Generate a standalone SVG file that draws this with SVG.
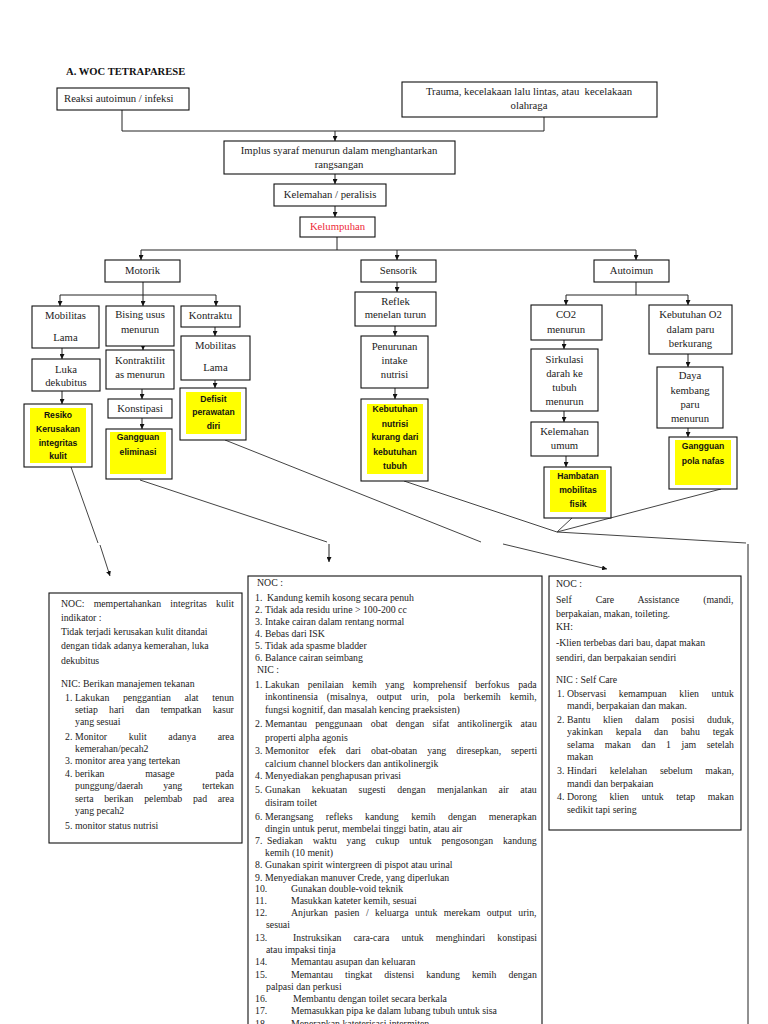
<svg xmlns="http://www.w3.org/2000/svg" width="768" height="1024" viewBox="0 0 768 1024">
<style>
.bx{fill:#fff;stroke:#111;stroke-width:1.1}
.yl{fill:#ffff00;stroke:none}
.t{font-family:"Liberation Serif","Times New Roman",serif;font-size:10.7px;fill:#222;text-anchor:middle}
.tl{font-family:"Liberation Serif","Times New Roman",serif;font-size:10.7px;fill:#222}
.red{fill:#ee2a3a}
.y{font-family:"Liberation Sans",Arial,sans-serif;font-size:8.6px;font-weight:bold;fill:#111;text-anchor:middle}
.b{font-family:"Liberation Serif","Times New Roman",serif;font-size:9.8px;fill:#222}
.ttl{font-family:"Liberation Serif","Times New Roman",serif;font-size:10.6px;font-weight:bold;fill:#111}
.c{fill:none;stroke:#222;stroke-width:1}
.d{fill:none;stroke:#444;stroke-width:1}
</style>
<defs>
<marker id="ah" viewBox="0 0 6 6" refX="6" refY="3" markerWidth="5" markerHeight="5" markerUnits="userSpaceOnUse" orient="auto"><path d="M0,0 L6,3 L0,6 z" fill="#111"/></marker>
</defs>
<rect width="768" height="1024" fill="#fff"/>
<text class="ttl" x="66" y="75">A. WOC TETRAPARESE</text>

<g id="connectors">
<path class="c" d="M122,110 V131 H544 V117"/>
<path class="c" d="M335,131 V141" marker-end="url(#ah)"/>
<path class="c" d="M335,174 V184" marker-end="url(#ah)"/>
<path class="c" d="M335,206 V217" marker-end="url(#ah)"/>
<path class="c" d="M337,237 V250 M141,250 H636"/>
<path class="c" d="M141,250 V260" marker-end="url(#ah)"/>
<path class="c" d="M397,250 V260" marker-end="url(#ah)"/>
<path class="c" d="M636,250 V260" marker-end="url(#ah)"/>
<path class="c" d="M143,282 V295 M60,295 H216"/>
<path class="c" d="M60,295 V306" marker-end="url(#ah)"/>
<path class="c" d="M143,295 V306" marker-end="url(#ah)"/>
<path class="c" d="M216,295 V306" marker-end="url(#ah)"/>
<path class="c" d="M62,348 V359" marker-end="url(#ah)"/>
<path class="c" d="M62,391 V404" marker-end="url(#ah)"/>
<path class="c" d="M143,344 V350" marker-end="url(#ah)"/>
<path class="c" d="M142,389 V399" marker-end="url(#ah)"/>
<path class="c" d="M142,418 V429" marker-end="url(#ah)"/>
<path class="c" d="M215,327 V336" marker-end="url(#ah)"/>
<path class="c" d="M215,380 V388" marker-end="url(#ah)"/>
<path class="c" d="M397,282 V292" marker-end="url(#ah)"/>
<path class="c" d="M395,326 V336" marker-end="url(#ah)"/>
<path class="c" d="M395,388 V399" marker-end="url(#ah)"/>
<path class="c" d="M636,282 V295 M566,295 H688"/>
<path class="c" d="M566,295 V305" marker-end="url(#ah)"/>
<path class="c" d="M688,295 V305" marker-end="url(#ah)"/>
<path class="c" d="M564,340 V349" marker-end="url(#ah)"/>
<path class="c" d="M564,411 V422" marker-end="url(#ah)"/>
<path class="c" d="M566,456 V467" marker-end="url(#ah)"/>
<path class="c" d="M688,354 V367" marker-end="url(#ah)"/>
<path class="c" d="M688,428 V437" marker-end="url(#ah)"/>
<path class="d" d="M71,467 L98,543"/>
<path class="d" d="M100,545 L110,576" marker-end="url(#ah)"/>
<path class="d" d="M140,480 L327,542"/>
<path class="c" d="M329,544 V562" marker-end="url(#ah)"/>
<path class="d" d="M225,440 L481,542"/>
<path class="d" d="M503,544 L607,569" marker-end="url(#ah)"/>
<path class="d" d="M404,481 L557,532 M572,518 L557,532 M721,489 L557,532 L746,543"/>
<path class="c" d="M748,544 V1024"/>
</g>

<g id="n-reaksi"><rect class="bx" x="57" y="88" width="132" height="22"/><text class="tl" x="64" y="102">Reaksi autoimun / infeksi</text></g>
<g id="n-trauma"><rect class="bx" x="402" y="82" width="255" height="35"/><text class="t" x="529" y="95">Trauma, kecelakaan lalu lintas, atau&#160; kecelakaan</text><text class="t" x="529" y="109">olahraga</text></g>
<g id="n-implus"><rect class="bx" x="224" y="141" width="231" height="33"/><text class="t" x="339" y="154">Implus syaraf menurun dalam menghantarkan</text><text class="t" x="339" y="168">rangsangan</text></g>
<g id="n-kelemahan"><rect class="bx" x="274" y="184" width="112" height="22"/><text class="t" x="330" y="198">Kelemahan / peralisis</text></g>
<g id="n-kelumpuhan"><rect class="bx" x="300" y="217" width="75" height="20"/><text class="t red" x="337.5" y="230">Kelumpuhan</text></g>
<g id="n-motorik"><rect class="bx" x="105" y="260" width="75" height="22"/><text class="t" x="142.5" y="274">Motorik</text></g>
<g id="n-sensorik"><rect class="bx" x="361" y="260" width="75" height="22"/><text class="t" x="398.5" y="274">Sensorik</text></g>
<g id="n-autoimun"><rect class="bx" x="594" y="260" width="75" height="22"/><text class="t" x="631.5" y="274">Autoimun</text></g>

<g id="n-mobilitas1"><rect class="bx" x="32" y="306" width="67" height="42"/><text class="t" x="65.5" y="319">Mobilitas</text><text class="t" x="65.5" y="341">Lama</text></g>
<g id="n-luka"><rect class="bx" x="32" y="359" width="68" height="32"/><text class="t" x="66" y="373">Luka</text><text class="t" x="66" y="386">dekubitus</text></g>
<g id="n-resiko"><rect class="bx" x="24" y="404" width="68" height="63"/><rect class="yl" x="30" y="408" width="56" height="55"/><text class="y" x="58" y="418">Resiko</text><text class="y" x="58" y="432">Kerusakan</text><text class="y" x="58" y="446">integritas</text><text class="y" x="58" y="459">kulit</text></g>
<g id="n-bising"><rect class="bx" x="106" y="306" width="68" height="40"/><text class="t" x="140" y="318">Bising usus</text><text class="t" x="140" y="333">menurun</text></g>
<g id="n-kontraktilitas"><rect class="bx" x="106" y="350" width="68" height="39"/><text class="t" x="140" y="364">Kontraktilit</text><text class="t" x="140" y="378">as menurun</text></g>
<g id="n-konstipasi"><rect class="bx" x="108" y="399" width="64" height="19"/><text class="t" x="140" y="412">Konstipasi</text></g>
<g id="n-eliminasi"><rect class="bx" x="106" y="429" width="66" height="50"/><rect class="yl" x="110" y="432" width="56" height="42"/><text class="y" x="138" y="440">Gangguan</text><text class="y" x="138" y="455">eliminasi</text></g>
<g id="n-kontraktu"><rect class="bx" x="181" y="306" width="59" height="21"/><text class="t" x="210.5" y="319">Kontraktu</text></g>
<g id="n-mobilitas2"><rect class="bx" x="181" y="336" width="69" height="44"/><text class="t" x="215.5" y="349">Mobilitas</text><text class="t" x="215.5" y="371">Lama</text></g>
<g id="n-defisit"><rect class="bx" x="180" y="388" width="66" height="52"/><rect class="yl" x="186" y="392" width="55" height="42"/><text class="y" x="213.5" y="402">Defisit</text><text class="y" x="213.5" y="415">perawatan</text><text class="y" x="213.5" y="429">diri</text></g>

<g id="n-reflek"><rect class="bx" x="355" y="292" width="81" height="34"/><text class="t" x="395.5" y="305">Reflek</text><text class="t" x="395.5" y="318">menelan turun</text></g>
<g id="n-penurunan"><rect class="bx" x="361" y="336" width="67" height="52"/><text class="t" x="394.5" y="350">Penurunan</text><text class="t" x="394.5" y="364">intake</text><text class="t" x="394.5" y="378">nutrisi</text></g>
<g id="n-nutrisi"><rect class="bx" x="361" y="399" width="67" height="82"/><rect class="yl" x="367" y="404" width="56" height="70"/><text class="y" x="395" y="412">Kebutuhan</text><text class="y" x="395" y="427">nutrisi</text><text class="y" x="395" y="440">kurang dari</text><text class="y" x="395" y="455">kebutuhan</text><text class="y" x="395" y="469">tubuh</text></g>

<g id="n-co2"><rect class="bx" x="531" y="305" width="71" height="35"/><text class="t" x="566" y="318">CO2</text><text class="t" x="566" y="333">menurun</text></g>
<g id="n-sirkulasi"><rect class="bx" x="531" y="349" width="67" height="62"/><text class="t" x="564.5" y="363">Sirkulasi</text><text class="t" x="564.5" y="377">darah ke</text><text class="t" x="564.5" y="391">tubuh</text><text class="t" x="564.5" y="405">menurun</text></g>
<g id="n-kelemahan-umum"><rect class="bx" x="531" y="422" width="67" height="34"/><text class="t" x="564.5" y="435">Kelemahan</text><text class="t" x="564.5" y="449">umum</text></g>
<g id="n-hambatan"><rect class="bx" x="544" y="467" width="67" height="51"/><rect class="yl" x="550" y="470" width="56" height="42"/><text class="y" x="578" y="479">Hambatan</text><text class="y" x="578" y="493">mobilitas</text><text class="y" x="578" y="507">fisik</text></g>
<g id="n-o2"><rect class="bx" x="649" y="305" width="83" height="49"/><text class="t" x="690.5" y="318">Kebutuhan O2</text><text class="t" x="690.5" y="333">dalam paru</text><text class="t" x="690.5" y="347">berkurang</text></g>
<g id="n-daya"><rect class="bx" x="657" y="367" width="66" height="61"/><text class="t" x="690" y="379">Daya</text><text class="t" x="690" y="394">kembang</text><text class="t" x="690" y="408">paru</text><text class="t" x="690" y="422">menurun</text></g>
<g id="n-nafas"><rect class="bx" x="669" y="437" width="68" height="52"/><rect class="yl" x="675" y="440" width="56" height="45"/><text class="y" x="703" y="449">Gangguan</text><text class="y" x="703" y="464">pola nafas</text></g>

<g id="n-plan-kulit">
<rect class="bx" x="49" y="593" width="193" height="250"/>
<text class="b" x="61" y="607" word-spacing="6.8">NOC: mempertahankan integritas kulit</text>
<text class="b" x="61" y="621">indikator :</text>
<text class="b" x="61" y="635">Tidak terjadi kerusakan kulit ditandai</text>
<text class="b" x="61" y="649">dengan tidak adanya kemerahan, luka</text>
<text class="b" x="61" y="664">dekubitus</text>
<text class="b" x="61" y="687">NIC: Berikan manajemen tekanan</text>
<text class="b" x="65" y="701">1.</text><text class="b" x="75" y="701" word-spacing="11.2">Lakukan penggantian alat tenun</text>
<text class="b" x="75" y="713" word-spacing="8.7">setiap hari dan tempatkan kasur</text>
<text class="b" x="75" y="725">yang sesuai</text>
<text class="b" x="65" y="740">2.</text><text class="b" x="75" y="740" word-spacing="19.2">Monitor kulit adanya area</text>
<text class="b" x="75" y="752">kemerahan/pecah2</text>
<text class="b" x="65" y="764">3.</text><text class="b" x="75" y="764">monitor area yang tertekan</text>
<text class="b" x="65" y="777">4.</text><text class="b" x="75" y="777" word-spacing="38.4">berikan masage pada</text>
<text class="b" x="75" y="789" word-spacing="17.7">punggung/daerah yang tertekan</text>
<text class="b" x="75" y="802" word-spacing="8.2">serta berikan pelembab pad area</text>
<text class="b" x="75" y="814">yang pecah2</text>
<text class="b" x="65" y="829">5.</text><text class="b" x="75" y="829">monitor status nutrisi</text>
</g>

<g id="n-plan-eliminasi">
<rect class="bx" x="248" y="576" width="294" height="460"/>
<text class="b" x="257" y="586">NOC :</text>
<text class="b" x="255" y="601">1.</text><text class="b" x="267" y="601">Kandung kemih kosong secara penuh</text>
<text class="b" x="255" y="613">2.</text><text class="b" x="265" y="613">Tidak ada residu urine &gt; 100-200 cc</text>
<text class="b" x="255" y="625">3.</text><text class="b" x="265" y="625">Intake cairan dalam rentang normal</text>
<text class="b" x="255" y="637">4.</text><text class="b" x="265" y="637">Bebas dari ISK</text>
<text class="b" x="255" y="649">5.</text><text class="b" x="265" y="649">Tidak ada spasme bladder</text>
<text class="b" x="255" y="661">6.</text><text class="b" x="265" y="661">Balance cairan seimbang</text>
<text class="b" x="257" y="673">NIC :</text>
<text class="b" x="255" y="688">1.</text><text class="b" x="265" y="688" word-spacing="6.1">Lakukan penilaian kemih yang komprehensif berfokus pada</text>
<text class="b" x="265" y="700" word-spacing="6.5">inkontinensia (misalnya, output urin, pola berkemih kemih,</text>
<text class="b" x="265" y="713">fungsi kognitif, dan masalah kencing praeksisten)</text>
<text class="b" x="255" y="727">2.</text><text class="b" x="265" y="727" word-spacing="5.8">Memantau penggunaan obat dengan sifat antikolinergik atau</text>
<text class="b" x="265" y="741">properti alpha agonis</text>
<text class="b" x="255" y="754">3.</text><text class="b" x="265" y="754" word-spacing="7.5">Memonitor efek dari obat-obatan yang diresepkan, seperti</text>
<text class="b" x="265" y="767">calcium channel blockers dan antikolinergik</text>
<text class="b" x="255" y="779">4.</text><text class="b" x="265" y="779">Menyediakan penghapusan privasi</text>
<text class="b" x="255" y="793">5.</text><text class="b" x="265" y="793" word-spacing="9">Gunakan kekuatan sugesti dengan menjalankan air atau</text>
<text class="b" x="265" y="806">disiram toilet</text>
<text class="b" x="255" y="820">6.</text><text class="b" x="265" y="820" word-spacing="10">Merangsang refleks kandung kemih dengan menerapkan</text>
<text class="b" x="265" y="832">dingin untuk perut, membelai tinggi batin, atau air</text>
<text class="b" x="255" y="844">7.</text><text class="b" x="267" y="844" word-spacing="7.4">Sediakan waktu yang cukup untuk pengosongan kandung</text>
<text class="b" x="265" y="856">kemih (10 menit)</text>
<text class="b" x="255" y="868">8.</text><text class="b" x="265" y="868">Gunakan spirit wintergreen di pispot atau urinal</text>
<text class="b" x="255" y="881">9.</text><text class="b" x="265" y="881">Menyediakan manuver Crede, yang diperlukan</text>
<text class="b" x="255" y="892">10.</text><text class="b" x="291" y="892">Gunakan double-void teknik</text>
<text class="b" x="255" y="904">11.</text><text class="b" x="291" y="904">Masukkan kateter kemih, sesuai</text>
<text class="b" x="255" y="916">12.</text><text class="b" x="291" y="916" word-spacing="4">Anjurkan pasien / keluarga untuk merekam output urin,</text>
<text class="b" x="266" y="928">sesuai</text>
<text class="b" x="255" y="941">13.</text><text class="b" x="293" y="941" word-spacing="9.6">Instruksikan cara-cara untuk menghindari konstipasi</text>
<text class="b" x="266" y="953">atau impaksi tinja</text>
<text class="b" x="255" y="965">14.</text><text class="b" x="291" y="965">Memantau asupan dan keluaran</text>
<text class="b" x="255" y="978">15.</text><text class="b" x="291" y="978" word-spacing="9.6">Memantau tingkat distensi kandung kemih dengan</text>
<text class="b" x="266" y="990">palpasi dan perkusi</text>
<text class="b" x="255" y="1002">16.</text><text class="b" x="293" y="1002">Membantu dengan toilet secara berkala</text>
<text class="b" x="255" y="1014">17.</text><text class="b" x="291" y="1014">Memasukkan pipa ke dalam lubang tubuh untuk sisa</text>
<text class="b" x="255" y="1027">18.</text><text class="b" x="291" y="1027">Menerapkan kateterisasi intermiten</text>
</g>

<g id="n-plan-selfcare">
<rect class="bx" x="549" y="576" width="192" height="254"/>
<text class="b" x="556" y="587">NOC :</text>
<text class="b" x="556" y="603" word-spacing="21.4">Self Care Assistance (mandi,</text>
<text class="b" x="556" y="617">berpakaian, makan, toileting.</text>
<text class="b" x="556" y="630">KH:</text>
<text class="b" x="556" y="646">-Klien terbebas dari bau, dapat makan</text>
<text class="b" x="556" y="661">sendiri, dan berpakaian sendiri</text>
<text class="b" x="556" y="683">NIC : Self Care</text>
<text class="b" x="557" y="697">1.</text><text class="b" x="567" y="697" word-spacing="10.2">Observasi kemampuan klien untuk</text>
<text class="b" x="567" y="709">mandi, berpakaian dan makan.</text>
<text class="b" x="557" y="723">2.</text><text class="b" x="567" y="723" word-spacing="10.1">Bantu klien dalam posisi duduk,</text>
<text class="b" x="567" y="735" word-spacing="10.3">yakinkan kepala dan bahu tegak</text>
<text class="b" x="567" y="748" word-spacing="8.1">selama makan dan 1 jam setelah</text>
<text class="b" x="567" y="760">makan</text>
<text class="b" x="557" y="774">3.</text><text class="b" x="567" y="774" word-spacing="10.3">Hindari kelelahan sebelum makan,</text>
<text class="b" x="567" y="787">mandi dan berpakaian</text>
<text class="b" x="557" y="800">4.</text><text class="b" x="567" y="800" word-spacing="10">Dorong klien untuk tetap makan</text>
<text class="b" x="567" y="813">sedikit tapi sering</text>
</g>
</svg>
